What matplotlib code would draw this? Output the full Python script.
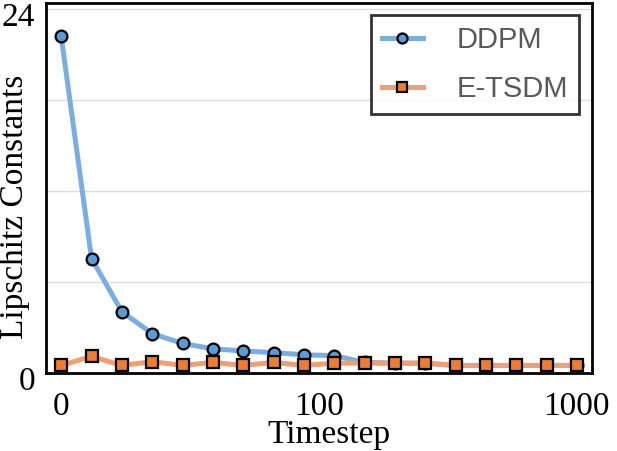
import matplotlib
matplotlib.use('Agg')
import matplotlib.pyplot as plt
import matplotlib.transforms as mtransforms
import numpy as np

# values (18 evaluated timesteps, evenly spaced on the plot)
ddpm_vals = [22.2, 7.55, 4.05, 2.6, 1.95, 1.6, 1.45, 1.35, 1.2, 1.15,
             0.7, 0.65, 0.65, 0.5, 0.5, 0.5, 0.5, 0.5]
etsdm_vals = [0.5, 1.1, 0.5, 0.75, 0.5, 0.7, 0.5, 0.7, 0.5, 0.65,
              0.65, 0.65, 0.65, 0.5, 0.5, 0.5, 0.5, 0.5]
xtick_pos = [0, 8.5, 17]
xtick_labels = ['0', '100', '1000']
series_names = ['DDPM', 'E-TSDM']

serif = ['Liberation Serif', 'DejaVu Serif']
sans = ['Liberation Sans', 'DejaVu Sans']

fig = plt.figure(figsize=(6.17, 4.51), dpi=100)
ax = fig.add_axes([0.0746, 0.1729, 0.8849, 0.8204])

x = np.arange(len(ddpm_vals))
ax.plot(x, ddpm_vals, color='#7aaee0', linewidth=3.6, marker='o', markersize=8.5,
        markerfacecolor='#5b9bd5', markeredgecolor='black', markeredgewidth=1.6,
        label=series_names[0], zorder=3)
ax.plot(x, etsdm_vals, color='#f0a070', linewidth=3.6, marker='s', markersize=8,
        markerfacecolor='#ed7d31', markeredgecolor='black', markeredgewidth=1.6,
        label=series_names[1], zorder=4)

ax.set_xlim(-0.5, 17.5)
ax.set_ylim(0, 24.4)
ax.set_yticks([0, 6, 12, 18, 24])
ax.set_yticklabels(['0', '', '', '', '24'], family=serif, fontsize=24)
ax.set_xticks(xtick_pos)
ax.set_xticklabels(xtick_labels, family=serif, fontsize=24)
ax.tick_params(axis='y', length=0, pad=8)
ax.tick_params(axis='x', length=0, pad=13)
# y tick labels sit a little below their gridlines in the reference
shift = mtransforms.ScaledTranslation(0, -5 / 100, fig.dpi_scale_trans)
for lbl in ax.get_yticklabels():
    lbl.set_transform(lbl.get_transform() + shift)
ax.grid(axis='y', color='#dddddd', linewidth=1)
ax.set_axisbelow(True)
for s in ax.spines.values():
    s.set_linewidth(2)
    s.set_color('black')

ax.set_xlabel('Timestep', family=serif, fontsize=24)
ax.xaxis.set_label_coords(0.518, -0.125)
ax.set_ylabel('Lipschitz Constants', family=serif, fontsize=24)
ax.yaxis.set_label_coords(-0.030, 0.449)

leg = ax.legend(loc='upper right', bbox_to_anchor=(0.976, 0.9676), borderaxespad=0,
                prop={'family': sans, 'size': 21}, frameon=True, fancybox=False,
                edgecolor='black', handlelength=1.4, handletextpad=1.15,
                labelspacing=0.72, borderpad=0.38, markerscale=0.85)
leg.get_frame().set_linewidth(2)
for t in leg.get_texts():
    t.set_color('#595959')

fig.savefig('out.png', dpi=100)
